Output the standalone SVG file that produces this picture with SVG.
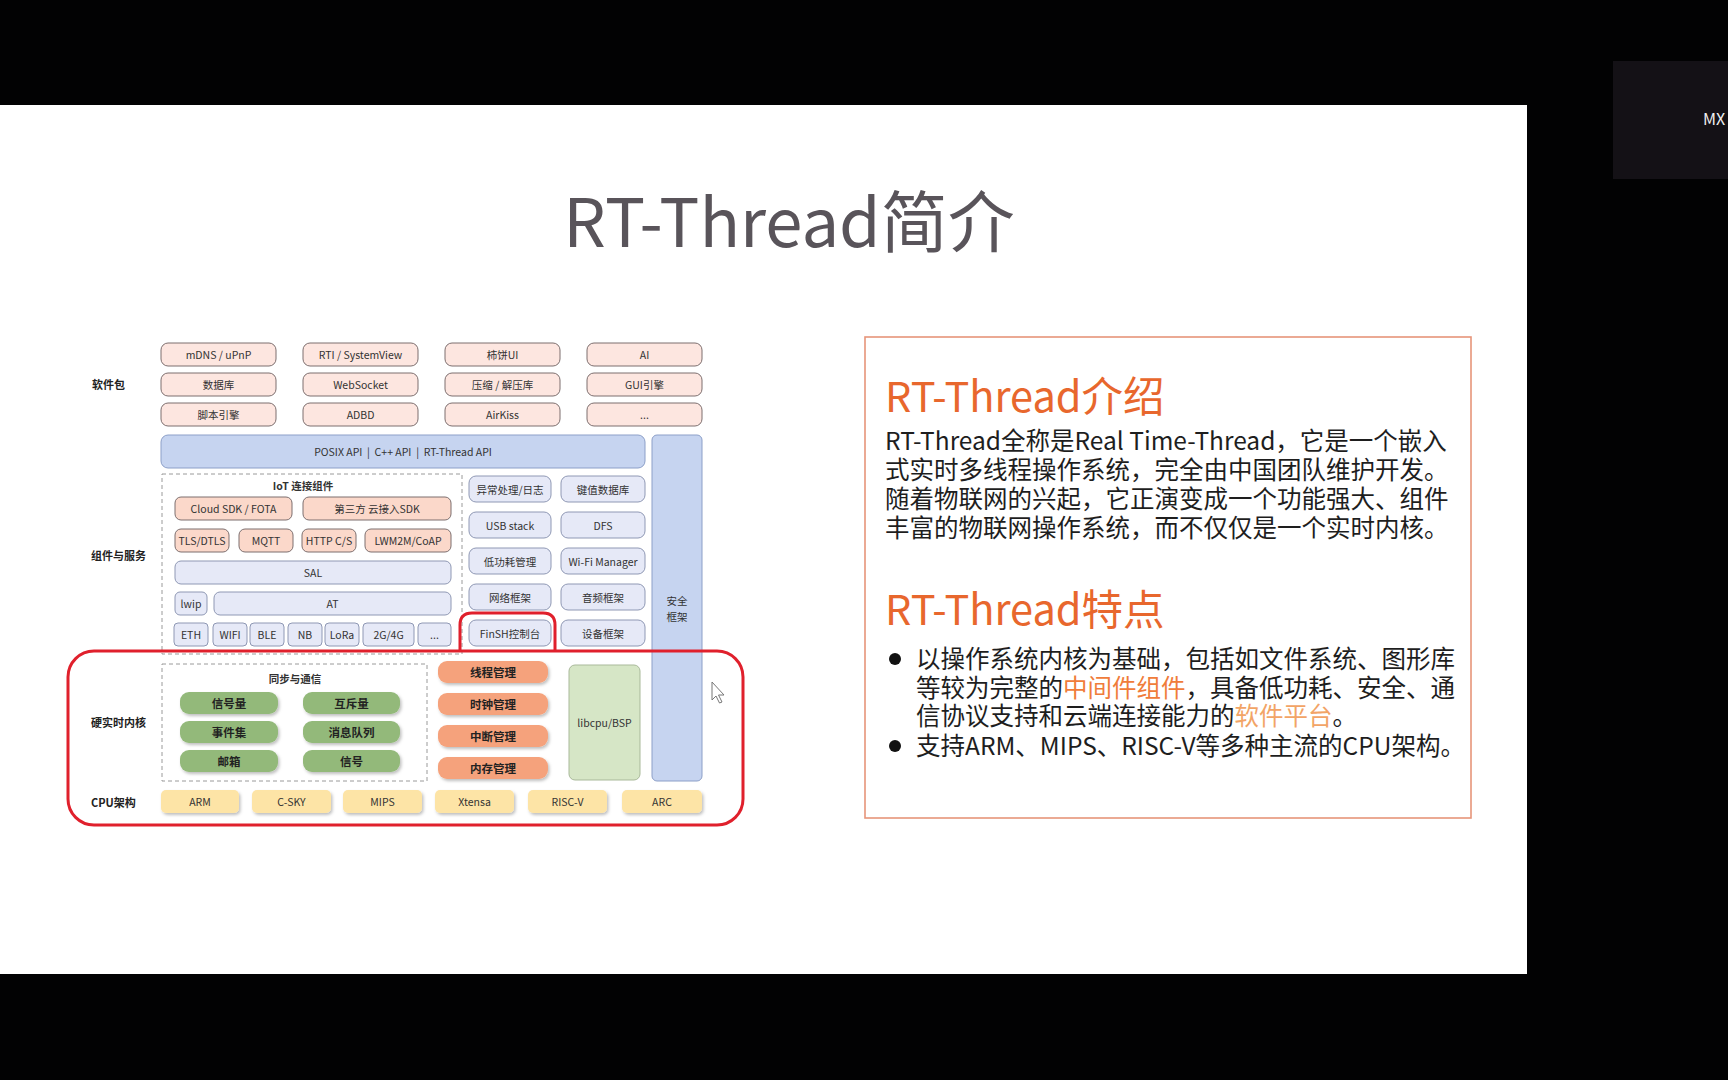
<svg xmlns="http://www.w3.org/2000/svg" width="1728" height="1080" viewBox="0 0 1728 1080">
<defs>
<style>
text{font-family:"Noto Sans CJK SC","Noto Sans",sans-serif;}
.pk{fill:#fde6e0;stroke:#7d6f6f;stroke-width:1}
.pk2{fill:#fbd8ca;stroke:#7d6f6f;stroke-width:1}
.bl{fill:#e6e9f7;stroke:#8f98b4;stroke-width:1}
.api{fill:#c6d4f0;stroke:#8c9fc8;stroke-width:1}
.gr{fill:#93b97a;filter:url(#sh)}
.or{fill:#f5a27c;filter:url(#sh)}
.ye{fill:#fde4a6;filter:url(#sh)}
.lt{font-size:10.5px;fill:#333;text-anchor:middle;dominant-baseline:central}
.kt{font-size:11.5px;font-weight:bold;fill:#222;text-anchor:middle;dominant-baseline:central}
.lab{font-size:11px;font-weight:bold;fill:#222;dominant-baseline:central}
.dash{fill:none;stroke:#9a9a9a;stroke-width:1;stroke-dasharray:4 3}
.body{font-size:24.5px;fill:#1e1e1e}
.hd{font-size:41.5px;fill:#e8672d}
</style>
<filter id="sh" x="-20%" y="-30%" width="140%" height="170%">
<feDropShadow dx="1.5" dy="2" stdDeviation="1.5" flood-color="#000" flood-opacity="0.25"/>
</filter>
</defs>
<rect x="0" y="0" width="1728" height="1080" fill="#020203"/>
<rect x="0" y="105" width="1527" height="869" fill="#ffffff"/>
<g id="panel-mx">
<rect x="1613" y="61" width="115" height="118" fill="#141116"/>
<text x="1703" y="125" font-size="16" fill="#f0f0f0">MX</text>
</g>
<text id="title" x="789" y="247" font-size="67" fill="#59545a" text-anchor="middle">RT-Thread简介</text>

<g id="diagram">
<g id="labels">
<text class="lab" x="92" y="384">软件包</text>
<text class="lab" x="91" y="555">组件与服务</text>
<text class="lab" x="91" y="722">硬实时内核</text>
<text class="lab" x="91" y="802">CPU架构</text>
</g>
<g id="packages">
<rect class="pk" x="161" y="343" width="115" height="23" rx="7"/><text class="lt" x="218.5" y="354.5">mDNS / uPnP</text>
<rect class="pk" x="303" y="343" width="115" height="23" rx="7"/><text class="lt" x="360.5" y="354.5">RTI / SystemView</text>
<rect class="pk" x="445" y="343" width="115" height="23" rx="7"/><text class="lt" x="502.5" y="354.5">柿饼UI</text>
<rect class="pk" x="587" y="343" width="115" height="23" rx="7"/><text class="lt" x="644.5" y="354.5">AI</text>
<rect class="pk" x="161" y="373" width="115" height="23" rx="7"/><text class="lt" x="218.5" y="384.5">数据库</text>
<rect class="pk" x="303" y="373" width="115" height="23" rx="7"/><text class="lt" x="360.5" y="384.5">WebSocket</text>
<rect class="pk" x="445" y="373" width="115" height="23" rx="7"/><text class="lt" x="502.5" y="384.5">压缩 / 解压库</text>
<rect class="pk" x="587" y="373" width="115" height="23" rx="7"/><text class="lt" x="644.5" y="384.5">GUI引擎</text>
<rect class="pk" x="161" y="403" width="115" height="23" rx="7"/><text class="lt" x="218.5" y="414.5">脚本引擎</text>
<rect class="pk" x="303" y="403" width="115" height="23" rx="7"/><text class="lt" x="360.5" y="414.5">ADBD</text>
<rect class="pk" x="445" y="403" width="115" height="23" rx="7"/><text class="lt" x="502.5" y="414.5">AirKiss</text>
<rect class="pk" x="587" y="403" width="115" height="23" rx="7"/><text class="lt" x="644.5" y="414.5">...</text>
</g>
<g id="api">
<rect class="api" x="161" y="435" width="484" height="33" rx="7"/>
<text class="lt" x="403" y="451.5">POSIX API&#160;&#160;|&#160;&#160;C++ API&#160;&#160;|&#160;&#160;RT-Thread API</text>
</g>
<g id="security">
<rect class="api" x="652" y="435" width="50" height="346" rx="5"/>
<text class="lt" x="677" y="600">安全</text>
<text class="lt" x="677" y="616">框架</text>
</g>
<g id="iot">
<rect class="dash" x="162" y="474" width="300" height="180"/>
<text class="lt" x="303" y="485" font-weight="bold" fill="#222">IoT 连接组件</text>
<rect class="pk2" x="175" y="497" width="117" height="23" rx="6"/><text class="lt" x="233.5" y="508.5">Cloud SDK / FOTA</text>
<rect class="pk2" x="303" y="497" width="148" height="23" rx="6"/><text class="lt" x="377" y="508.5">第三方 云接入SDK</text>
<rect class="pk2" x="175" y="529" width="54" height="23" rx="6"/><text class="lt" x="202" y="540.5">TLS/DTLS</text>
<rect class="pk2" x="239" y="529" width="54" height="23" rx="6"/><text class="lt" x="266" y="540.5">MQTT</text>
<rect class="pk2" x="302" y="529" width="54" height="23" rx="6"/><text class="lt" x="329" y="540.5">HTTP C/S</text>
<rect class="pk2" x="365" y="529" width="86" height="23" rx="6"/><text class="lt" x="408" y="540.5">LWM2M/CoAP</text>
<rect class="bl" x="175" y="561" width="276" height="23" rx="6"/><text class="lt" x="313" y="572.5">SAL</text>
<rect class="bl" x="175" y="592" width="32" height="23" rx="5"/><text class="lt" x="191" y="603.5">lwip</text>
<rect class="bl" x="214" y="592" width="237" height="23" rx="6"/><text class="lt" x="332.5" y="603.5">AT</text>
<rect class="bl" x="174" y="623" width="34" height="23" rx="4"/><text class="lt" x="191" y="634.5">ETH</text>
<rect class="bl" x="213" y="623" width="34" height="23" rx="4"/><text class="lt" x="230" y="634.5">WIFI</text>
<rect class="bl" x="250" y="623" width="34" height="23" rx="4"/><text class="lt" x="267" y="634.5">BLE</text>
<rect class="bl" x="288" y="623" width="34" height="23" rx="4"/><text class="lt" x="305" y="634.5">NB</text>
<rect class="bl" x="325" y="623" width="34" height="23" rx="4"/><text class="lt" x="342" y="634.5">LoRa</text>
<rect class="bl" x="363" y="623" width="51" height="23" rx="4"/><text class="lt" x="388.5" y="634.5">2G/4G</text>
<rect class="bl" x="418" y="623" width="33" height="23" rx="4"/><text class="lt" x="434.5" y="634.5">...</text>
</g>
<g id="services">
<rect class="bl" x="469" y="476" width="82" height="26" rx="7"/><text class="lt" x="510" y="489">异常处理/日志</text>
<rect class="bl" x="561" y="476" width="84" height="26" rx="7"/><text class="lt" x="603" y="489">键值数据库</text>
<rect class="bl" x="469" y="512" width="82" height="26" rx="7"/><text class="lt" x="510" y="525">USB stack</text>
<rect class="bl" x="561" y="512" width="84" height="26" rx="7"/><text class="lt" x="603" y="525">DFS</text>
<rect class="bl" x="469" y="548" width="82" height="26" rx="7"/><text class="lt" x="510" y="561">低功耗管理</text>
<rect class="bl" x="561" y="548" width="84" height="26" rx="7"/><text class="lt" x="603" y="561">Wi-Fi Manager</text>
<rect class="bl" x="469" y="584" width="82" height="26" rx="7"/><text class="lt" x="510" y="597">网络框架</text>
<rect class="bl" x="561" y="584" width="84" height="26" rx="7"/><text class="lt" x="603" y="597">音频框架</text>
<rect class="bl" x="469" y="620" width="82" height="26" rx="7"/><text class="lt" x="510" y="633">FinSH控制台</text>
<rect class="bl" x="561" y="620" width="84" height="26" rx="7"/><text class="lt" x="603" y="633">设备框架</text>
</g>
<g id="kernel">
<rect class="dash" x="162" y="664" width="265" height="117"/>
<text class="lt" x="295" y="678" font-weight="bold" fill="#222">同步与通信</text>
<rect class="gr" x="180" y="692" width="98" height="22" rx="9"/><text class="kt" x="229" y="703">信号量</text>
<rect class="gr" x="303" y="692" width="97" height="22" rx="9"/><text class="kt" x="351.5" y="703">互斥量</text>
<rect class="gr" x="180" y="721" width="98" height="22" rx="9"/><text class="kt" x="229" y="732">事件集</text>
<rect class="gr" x="303" y="721" width="97" height="22" rx="9"/><text class="kt" x="351.5" y="732">消息队列</text>
<rect class="gr" x="180" y="750" width="98" height="22" rx="9"/><text class="kt" x="229" y="761">邮箱</text>
<rect class="gr" x="303" y="750" width="97" height="22" rx="9"/><text class="kt" x="351.5" y="761">信号</text>
<rect class="or" x="438" y="661" width="110" height="22" rx="9"/><text class="kt" x="493" y="672">线程管理</text>
<rect class="or" x="438" y="693" width="110" height="22" rx="9"/><text class="kt" x="493" y="704">时钟管理</text>
<rect class="or" x="438" y="725" width="110" height="22" rx="9"/><text class="kt" x="493" y="736">中断管理</text>
<rect class="or" x="438" y="757" width="110" height="22" rx="9"/><text class="kt" x="493" y="768">内存管理</text>
<rect x="569" y="665" width="71" height="115" rx="6" fill="#d6e6c6" stroke="#a9b99a" stroke-width="1"/>
<text class="lt" x="604.5" y="722.5">libcpu/BSP</text>
</g>
<g id="cpu">
<rect class="ye" x="161" y="790" width="78" height="23" rx="5"/><text class="lt" x="200" y="801.5">ARM</text>
<rect class="ye" x="252" y="790" width="79" height="23" rx="5"/><text class="lt" x="291.5" y="801.5">C-SKY</text>
<rect class="ye" x="343" y="790" width="79" height="23" rx="5"/><text class="lt" x="382.5" y="801.5">MIPS</text>
<rect class="ye" x="435" y="790" width="79" height="23" rx="5"/><text class="lt" x="474.5" y="801.5">Xtensa</text>
<rect class="ye" x="528" y="790" width="79" height="23" rx="5"/><text class="lt" x="567.5" y="801.5">RISC-V</text>
<rect class="ye" x="622" y="790" width="80" height="23" rx="5"/><text class="lt" x="662" y="801.5">ARC</text>
</g>
<g id="highlights" fill="none" stroke="#e0202c" stroke-width="3">
<path d="M460 651 V625 Q460 613 472 613 H543 Q555 613 555 625 V651"/>
<rect x="68" y="651" width="675" height="174" rx="26"/>
</g>
<polygon id="cursor" points="712,682 712,700 716,696 719.5,703 722,702 718.5,695 724,695" fill="#ffffff" stroke="#777" stroke-width="1"/>
</g>

<g id="info">
<rect x="865" y="337" width="606" height="481" fill="none" stroke="#e6957a" stroke-width="1.6"/>
<text class="hd" x="885" y="412">RT-Thread介绍</text>
<text class="body" x="885" y="450">RT-Thread全称是Real Time-Thread，它是一个嵌入</text>
<text class="body" x="885" y="479">式实时多线程操作系统，完全由中国团队维护开发。</text>
<text class="body" x="885" y="508">随着物联网的兴起，它正演变成一个功能强大、组件</text>
<text class="body" x="885" y="537">丰富的物联网操作系统，而不仅仅是一个实时内核。</text>
<text class="hd" x="885" y="625">RT-Thread特点</text>
<circle cx="895" cy="659" r="6" fill="#111"/>
<text class="body" x="916" y="668">以操作系统内核为基础，包括如文件系统、图形库</text>
<text class="body" x="916" y="697">等较为完整的<tspan fill="#f07c3a">中间件组件</tspan>，具备低功耗、安全、通</text>
<text class="body" x="916" y="725">信协议支持和云端连接能力的<tspan fill="#f2a466">软件平台</tspan>。</text>
<circle cx="895" cy="746" r="6" fill="#111"/>
<text class="body" x="916" y="755">支持ARM、MIPS、RISC-V等多种主流的CPU架构。</text>
</g>
</svg>
